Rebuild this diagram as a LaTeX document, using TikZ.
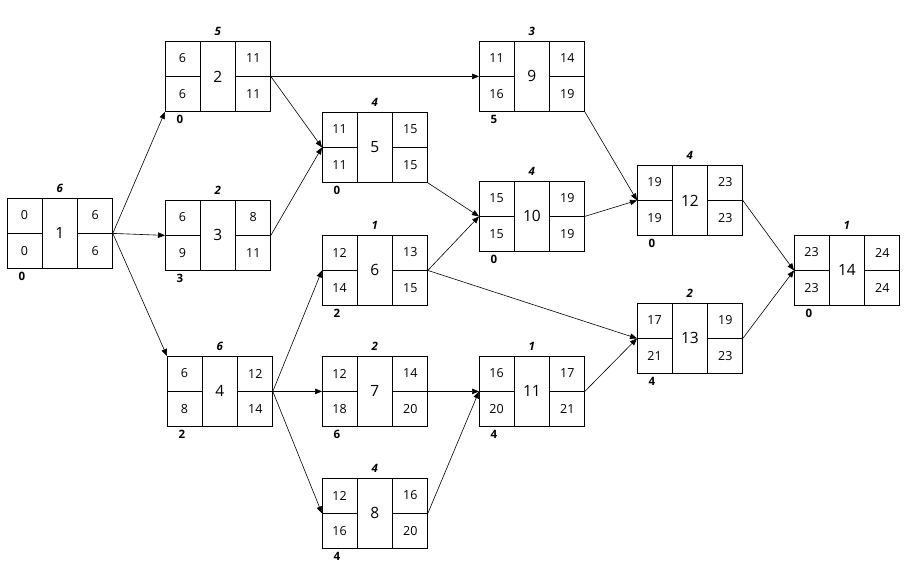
\documentclass[tikz,border=0pt]{standalone}
\usepackage{fontspec}
\setmainfont{Open Sans}
\usetikzlibrary{arrows.meta}
\tikzset{
  box/.style={draw, line width=0.8pt, minimum width=105pt, minimum height=70pt, inner sep=0pt, anchor=north west},
  cell/.style={font=\fontsize{12.5}{13}\selectfont, inner sep=0pt},
  mid/.style={font=\fontsize{15.5}{16}\selectfont, inner sep=0pt},
  dur/.style={font=\fontsize{11.5}{12}\selectfont\bfseries\itshape, inner sep=0pt},
  slk/.style={font=\fontsize{11.5}{12}\selectfont\bfseries, inner sep=0pt},
  arr/.style={draw, line width=0.6pt, -{Triangle[length=7pt,width=5.5pt]}}
}
% #1 name, #2 top-left, #3 id, #4 TL, #5 BL, #6 TR, #7 BR, #8 duration, #9 slack
\newcommand{\pnode}[9]{%
  \node[box] (#1) at (#2) {};
  \draw[line width=0.8pt] ([xshift=35pt]#1.north west) -- ([xshift=35pt]#1.south west);
  \draw[line width=0.8pt] ([xshift=-35pt]#1.north east) -- ([xshift=-35pt]#1.south east);
  \draw[line width=0.8pt] (#1.west) -- ([xshift=35pt]#1.west);
  \draw[line width=0.8pt] (#1.east) -- ([xshift=-35pt]#1.east);
  \node[cell] (#1-tl) at ([xshift=17.5pt,yshift=-17.5pt]#1.north west) {#4};
  \node[cell] (#1-bl) at ([xshift=17.5pt,yshift=17.5pt]#1.south west) {#5};
  \node[cell] (#1-tr) at ([xshift=-17.5pt,yshift=-17.5pt]#1.north east) {#6};
  \node[cell] (#1-br) at ([xshift=-17.5pt,yshift=17.5pt]#1.south east) {#7};
  \node[mid] (#1-id) at (#1.center) {#3};
  \node[dur] (#1-du) at ([yshift=10pt]#1.north) {#8};
  \node[slk] (#1-sl) at ([xshift=15pt,yshift=-8pt]#1.south west) {#9};
}
\begin{document}
\begin{tikzpicture}[x=1pt,y=-1pt]
\useasboundingbox (0,0) rectangle (909,563);
\pnode{n1}{7,198}{1}{0}{0}{6}{6}{6}{0}
\pnode{n2}{165,41}{2}{6}{6}{11}{11}{5}{0}
\pnode{n3}{165,200}{3}{6}{9}{8}{11}{2}{3}
\pnode{n4}{167,356}{4}{6}{8}{12}{14}{6}{2}
\pnode{n5}{322,112}{5}{11}{11}{15}{15}{4}{0}
\pnode{n6}{322,235}{6}{12}{14}{13}{15}{1}{2}
\pnode{n7}{322,356}{7}{12}{18}{14}{20}{2}{6}
\pnode{n8}{322,478}{8}{12}{16}{16}{20}{4}{4}
\pnode{n9}{479,41}{9}{11}{16}{14}{19}{3}{5}
\pnode{n10}{479,181}{10}{15}{15}{19}{19}{4}{0}
\pnode{n11}{479,356}{11}{16}{20}{17}{21}{1}{4}
\pnode{n12}{637,165}{12}{19}{19}{23}{23}{4}{0}
\pnode{n13}{637,303}{13}{17}{21}{19}{23}{2}{4}
\pnode{n14}{794,235}{14}{23}{23}{24}{24}{1}{0}
\path[arr] (n1.east) -- (n2.south west);
\path[arr] (n1.east) -- (n3.west);
\path[arr] (n1.east) -- (n4.north west);
\path[arr] (n2.east) -- (n5.west);
\path[arr] (n2.east) -- (n9.west);
\path[arr] (n3.east) -- (n5.west);
\path[arr] (n4.east) -- (n6.west);
\path[arr] (n4.east) -- (n7.west);
\path[arr] (n4.east) -- (n8.west);
\path[arr] (n5.south east) -- (n10.west);
\path[arr] (n6.east) -- (n10.west);
\path[arr] (n6.east) -- (n13.west);
\path[arr] (n7.east) -- (n11.west);
\path[arr] (n8.east) -- (n11.west);
\path[arr] (n9.south east) -- (n12.west);
\path[arr] (n10.east) -- (n12.west);
\path[arr] (n11.east) -- (n13.west);
\path[arr] (n12.east) -- (n14.west);
\path[arr] (n13.east) -- (n14.west);
\end{tikzpicture}
\end{document}
